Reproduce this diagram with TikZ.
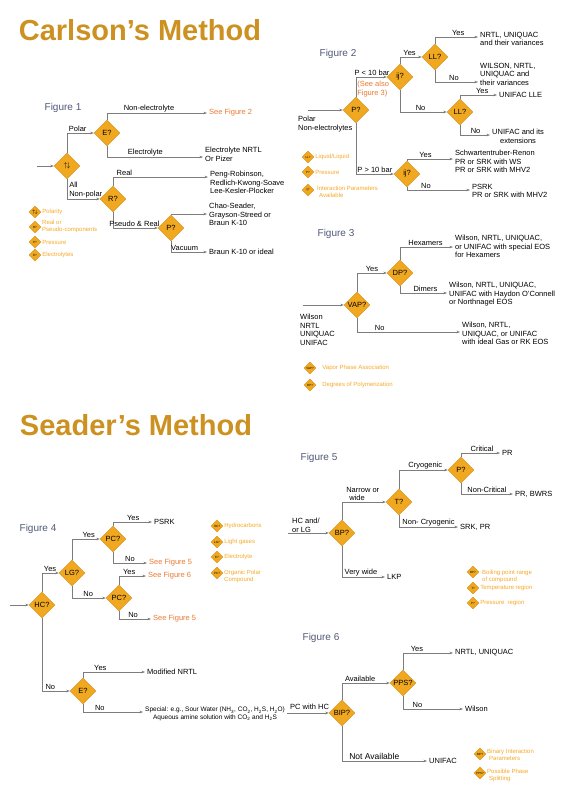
\documentclass[tikz,border=0pt]{standalone}
\usepackage{fontspec}
\setmainfont{Liberation Sans}
\usetikzlibrary{shapes.geometric,arrows.meta}
\definecolor{titlegold}{RGB}{204,145,32}
\definecolor{figslate}{RGB}{80,90,120}
\definecolor{dmdfill}{RGB}{240,168,32}
\definecolor{dmdedge}{RGB}{214,140,20}
\definecolor{seeorange}{RGB}{232,120,48}
\definecolor{keyorange}{RGB}{245,168,40}
\definecolor{linegray}{RGB}{125,125,125}

\begin{document}
\begin{tikzpicture}[x=1pt, y=-1pt, >={Stealth[length=3.5pt,width=2.6pt]},
    font=\fontsize{7.5}{8.5}\selectfont,
    dmd/.style={diamond, aspect=1, draw=dmdedge, fill=dmdfill, inner sep=0pt, minimum width=26pt, minimum height=26pt},
    keydmd/.style={diamond, aspect=1, draw=dmdedge, fill=dmdfill, inner sep=0pt, minimum width=12pt, minimum height=12pt, font=\fontsize{3}{3}\selectfont},
    conn/.style={->, draw=linegray, line width=0.6pt},
    res/.style={anchor=west, align=left, inner sep=1pt, inner xsep=2pt},
    lbl/.style={inner sep=1pt},
    see/.style={res, text=seeorange},
    keytxt/.style={anchor=west, align=left, text=keyorange, inner sep=1pt, font=\fontsize{6}{7.5}\selectfont},
    figlbl/.style={text=figslate, font=\fontsize{10}{12}\selectfont},
    heading/.style={text=titlegold, font=\fontsize{29}{34}\selectfont\bfseries}]
  \useasboundingbox (0,0) rectangle (566,801);

  % headings
  \node[heading] (carlson) at (140,30) {Carlson's Method};
  \node[heading] (seader) at (136,425) {Seader's Method};

  % Figure 1: polarity, real/pseudo components, pressure
  \begin{scope}
    \node[figlbl] (fig1) at (63,108) {Figure 1};
    \coordinate (in1) at (37,166);
    \node[dmd] (pol) at (67,166) {$\uparrow\!\downarrow$};
    \node[dmd] (E1) at (107,133) {E?};
    \node[dmd] (R1) at (113,199) {R?};
    \node[dmd] (P1) at (171,228) {P?};
    \node[see] (see2) at (207,113) {See Figure 2};
    \node[res, anchor=north west] (elnrtl) at (203,146) {Electrolyte NRTL\\Or Pizer};
    \node[res, anchor=north west] (pengrob) at (208,170) {Peng-Robinson,\\Redlich-Kwong-Soave\\Lee-Kesler-Plocker};
    \node[res, anchor=north west] (chao) at (207,202) {Chao-Seader,\\Grayson-Streed or\\Braun K-10};
    \node[res] (braun) at (207,252) {Braun K-10 or ideal};
    \draw[conn] (in1) -- (pol.west);
    \draw[conn] (pol.north) |- node[lbl, pos=0.70, above] {Polar} (E1.west);
    \draw[conn] (E1.north) |- node[lbl, pos=0.71, above] {Non-electrolyte} (see2.west);
    \draw[conn] (E1.south) |- node[lbl, pos=0.70, above] {Electrolyte} ([yshift=-11pt]elnrtl.north west);
    \draw[conn] (pol.south) |- node[lbl, pos=0.5, anchor=south west, align=left, xshift=1pt] {All\\Non-polar} (R1.west);
    \draw[conn] (R1.north) |- node[lbl, pos=0.56, above] {Real} ([yshift=-7pt]pengrob.north west);
    \draw[conn] (R1.south) |- node[lbl, pos=0.74, above] {Pseudo \& Real} (P1.west);
    \draw[conn] (P1.north) |- ([yshift=-12pt]chao.north west);
    \draw[conn] (P1.south) |- node[lbl, pos=0.69, above] {Vacuum} (braun.west);
    % key
    \node[keydmd] (k1a) at (35,212) {$\uparrow\!\downarrow$};
    \node[keydmd] (k1b) at (35,227) {R?};
    \node[keydmd] (k1c) at (35,242) {P?};
    \node[keydmd] (k1d) at (35,255) {E?};
    \node[keytxt] (k1at) at (k1a.east) {Polarity};
    \node[keytxt, anchor=north west] (k1bt) at (41,218.5) {Real or\\Pseudo-components};
    \node[keytxt] (k1ct) at (k1c.east) {Pressure};
    \node[keytxt] (k1dt) at (k1d.east) {Electrolytes};
  \end{scope}

  % Figure 2: polar non-electrolytes
  \begin{scope}
    \node[figlbl] (fig2) at (338,54) {Figure 2};
    \coordinate (in2) at (308,110);
    \node[dmd] (P2) at (356,110) {P?};
    \node[dmd] (ij2) at (400,77) {ij?};
    \node[dmd] (LL2a) at (435,57) {LL?};
    \node[dmd] (LL2b) at (460,112) {LL?};
    \node[dmd] (ij2b) at (407,174) {ij?};
    \node[res, anchor=north west, align=left] (inlist2) at (296,115) {Polar\\Non-electrolytes};
    \node[res, anchor=north west] (nrtl2) at (478,31) {NRTL, UNIQUAC\\ and their variances};
    \node[res, anchor=north west] (wilson2) at (478,62) {WILSON, NRTL,\\UNIQUAC and\\their variances};
    \node[res] (unifacl) at (497,95) {UNIFAC LLE};
    \node[res, anchor=north west, align=center] (unifacext) at (490,128) {UNIFAC and its\\extensions};
    \node[res, anchor=north west] (schw) at (453,149) {Schwartentruber-Renon\\PR or SRK with WS\\PR or SRK with MHV2};
    \node[res, anchor=north west] (psrk) at (470,183) {PSRK\\PR or SRK with MHV2};
    \draw[conn] (in2) -- (P2.west);
    \draw[conn] (P2.north) |- node[lbl, pos=0.76, above] {P < 10 bar}
      node[lbl, pos=0.5, anchor=north west, align=left, text=seeorange, yshift=-3pt] {(See also\\Figure 3)} (ij2.west);
    \draw[conn] (ij2.north) |- node[lbl, pos=0.72, above] {Yes} (LL2a.west);
    \draw[conn] (LL2a.north) |- node[lbl, pos=0.77, above] {Yes} ([yshift=-6pt]nrtl2.north west);
    \draw[conn] (LL2a.south) |- node[lbl, pos=0.72, above] {No} ([yshift=-20pt]wilson2.north west);
    \draw[conn] (ij2.south) |- node[lbl, pos=0.72, above] {No} (LL2b.west);
    \draw[conn] (LL2b.north) |- node[lbl, pos=0.8, above] {Yes} (unifacl.west);
    \draw[conn] (LL2b.south) |- node[lbl, pos=0.76, above] {No} ([yshift=-7pt]unifacext.north west);
    \draw[conn] (P2.south) |- node[lbl, pos=0.75, above] {P > 10 bar} (ij2b.west);
    \draw[conn] (ij2b.north) |- node[lbl, pos=0.7, above] {Yes} ([yshift=-10pt]schw.north west);
    \draw[conn] (ij2b.south) |- node[lbl, pos=0.65, above] {No} ([yshift=-7pt]psrk.north west);
    % key
    \node[keydmd] (k2a) at (308,157) {LL?};
    \node[keydmd] (k2b) at (308,172) {P?};
    \node[keydmd] (k2c) at (308,190) {ij?};
    \node[keytxt] (k2at) at (k2a.east) {Liquid/Liquid};
    \node[keytxt] (k2bt) at (k2b.east) {Pressure};
    \node[keytxt, anchor=north west] (k2ct) at (316,184.5) {Interaction Parameters\\\hspace*{2pt}Available};
  \end{scope}

  % Figure 3: vapour phase association
  \begin{scope}
    \node[figlbl] (fig3) at (336,234) {Figure 3};
    \coordinate (in3) at (303,305);
    \node[dmd] (VAP3) at (357,305) {VAP?};
    \node[dmd] (DP3) at (400,273) {DP?};
    \node[res, anchor=north west] (inlist3) at (298,313) {Wilson\\NRTL\\UNIQUAC\\UNIFAC};
    \node[res, anchor=north west] (hexa) at (453,234) {Wilson, NRTL, UNIQUAC,\\ or UNIFAC with special EOS\\ for Hexamers};
    \node[res, anchor=north west] (dimer) at (447,281) {Wilson, NRTL, UNIQUAC,\\ UNIFAC with Haydon O'Connell\\ or Northnagel EOS};
    \node[res, anchor=north west] (ideal) at (460,321) {Wilson, NRTL,\\UNIQUAC, or UNIFAC\\with ideal Gas or RK EOS};
    \draw[conn] (in3) -- (VAP3.west);
    \draw[conn] (VAP3.north) |- node[lbl, pos=0.75, above] {Yes} (DP3.west);
    \draw[conn] (DP3.north) |- node[lbl, pos=0.74, above] {Hexamers} ([yshift=-13pt]hexa.north west);
    \draw[conn] (DP3.south) |- node[lbl, pos=0.77, above] {Dimers} ([yshift=-12pt]dimer.north west);
    \draw[conn] (VAP3.south) |- node[lbl, pos=0.61, above] {No} ([yshift=-11pt]ideal.north west);
    % key
    \node[keydmd] (k3a) at (310,368) {VAP?};
    \node[keydmd] (k3b) at (310,385) {DP?};
    \node[keytxt, xshift=5pt] (k3at) at (k3a.east) {Vapor Phase Association};
    \node[keytxt, xshift=5pt] (k3bt) at (k3b.east) {Degrees of Polymerization};
  \end{scope}

  % Figure 4: hydrocarbons, light gases, polar compounds
  \begin{scope}
    \node[figlbl] (fig4) at (38,529) {Figure 4};
    \coordinate (in4) at (10,605);
    \node[dmd] (HC4) at (42,605) {HC?};
    \node[dmd] (LG4) at (72,573) {LG?};
    \node[dmd] (PCa4) at (113,539) {PC?};
    \node[dmd] (PCb4) at (119,598) {PC?};
    \node[dmd] (E4) at (83,691) {E?};
    \node[res] (psrk4) at (152,522) {PSRK};
    \node[see] (see5a) at (147,563) {See Figure 5};
    \node[see] (see6) at (146,576) {See Figure 6};
    \node[see] (see5b) at (151,619) {See Figure 5};
    \node[res] (modnrtl) at (145,672) {Modified NRTL};
    \node[res, anchor=north west, align=center, font=\fontsize{6.5}{7.5}\selectfont] (special) at (143,706) {Special: e.g., Sour Water (NH\textsubscript{3}, CO\textsubscript{2}, H\textsubscript{2}S, H\textsubscript{2}O)\\Aqueous amine solution with CO\textsubscript{2} and H\textsubscript{2}S};
    \draw[conn] (in4) -- (HC4.west);
    \draw[conn] (HC4.north) |- node[lbl, pos=0.74, above] {Yes} (LG4.west);
    \draw[conn] (LG4.north) |- node[lbl, pos=0.8, above] {Yes} (PCa4.west);
    \draw[conn] (PCa4.north) |- node[lbl, pos=0.76, above] {Yes} (psrk4.west);
    \draw[conn] (PCa4.south) |- node[lbl, pos=0.75, above] {No} (see5a.west);
    \draw[conn] (LG4.south) |- node[lbl, pos=0.74, above] {No} (PCb4.west);
    \draw[conn] (PCb4.north) |- node[lbl, pos=0.69, above] {Yes} (see6.west);
    \draw[conn] (PCb4.south) |- node[lbl, pos=0.72, above] {No} (see5b.west);
    \draw[conn] (HC4.south) |- node[lbl, pos=0.65, above] {No} (E4.west);
    \draw[conn] (E4.north) |- node[lbl, pos=0.64, above] {Yes} (modnrtl.west);
    \draw[conn] (E4.south) |- node[lbl, pos=0.64, above] {No} ([yshift=-6pt]special.north west);
    % key
    \node[keydmd] (k4a) at (217,526) {HC?};
    \node[keydmd] (k4b) at (217,542) {LG?};
    \node[keydmd] (k4c) at (217,557) {E?};
    \node[keydmd] (k4d) at (217,573) {PC?};
    \node[keytxt] (k4at) at (k4a.east) {Hydrocarbons};
    \node[keytxt] (k4bt) at (k4b.east) {Light gases};
    \node[keytxt] (k4ct) at (k4c.east) {Electrolyte};
    \node[keytxt, anchor=north west] (k4dt) at (223,568.5) {Organic Polar\\Compound};
  \end{scope}

  % Figure 5: hydrocarbons and/or light gases
  \begin{scope}
    \node[figlbl] (fig5) at (319,458) {Figure 5};
    \coordinate (in5) at (288,533);
    \node[dmd] (BP5) at (342,533) {BP?};
    \node[dmd] (T5) at (399,502) {T?};
    \node[dmd] (P5) at (461,470) {P?};
    \node[res, anchor=north west] (inlist5) at (290,517) {HC and/\\or LG};
    \node[res] (pr5) at (500,453) {PR};
    \node[res] (bwrs5) at (513,494) {PR, BWRS};
    \node[res] (srk5) at (458,527) {SRK, PR};
    \node[res] (lkp5) at (385,577) {LKP};
    \draw[conn] (in5) -- (BP5.west);
    \draw[conn] (BP5.north) |- node[lbl, pos=0.5, anchor=south west, align=left, xshift=3pt] {Narrow or\\\hspace*{3pt}wide} (T5.west);
    \draw[conn] (T5.north) |- node[lbl, pos=0.77, above] {Cryogenic} (P5.west);
    \draw[conn] (P5.north) |- node[lbl, pos=0.77, above] {Critical} (pr5.west);
    \draw[conn] (P5.south) |- node[lbl, pos=0.75, above] {Non-Critical} (bwrs5.west);
    \draw[conn] (T5.south) |- node[lbl, pos=0.75, above] {Non- Cryogenic} (srk5.west);
    \draw[conn] (BP5.south) |- node[lbl, pos=0.72, above] {Very wide} (lkp5.west);
    % key
    \node[keydmd] (k5a) at (473,572) {BP?};
    \node[keydmd] (k5b) at (473,588) {T?};
    \node[keydmd] (k5c) at (473,603) {P?};
    \node[keytxt, anchor=north west] (k5at) at (481,568.5) {Boiling point range\\of compound};
    \node[keytxt] (k5bt) at (k5b.east) {Temperature region};
    \node[keytxt] (k5ct) at (k5c.east) {Pressure\ \ region};
  \end{scope}

  % Figure 6: polar compound with hydrocarbons
  \begin{scope}
    \node[figlbl] (fig6) at (321,638) {Figure 6};
    \coordinate (in6) at (287,713);
    \node[dmd] (BIP6) at (342,713) {BIP?};
    \node[dmd] (PPS6) at (403,683) {PPS?};
    \node[res, anchor=south west] (inlist6) at (288,711) {PC with HC};
    \node[res] (nrtl6) at (453,653) {NRTL, UNIQUAC};
    \node[res] (wilson6) at (463,709) {Wilson};
    \node[res] (unifac6) at (427,761) {UNIFAC};
    \draw[conn] (in6) -- (BIP6.west);
    \draw[conn] (BIP6.north) |- node[lbl, pos=0.69, above] {Available} (PPS6.west);
    \draw[conn] (PPS6.north) |- node[lbl, pos=0.64, above] {Yes} (nrtl6.west);
    \draw[conn] (PPS6.south) |- node[lbl, pos=0.62, above] {No} (wilson6.west);
    \draw[conn] (BIP6.south) |- node[lbl, pos=0.69, above, font=\fontsize{8.5}{10}\selectfont] {Not Available} (unifac6.west);
    % key
    \node[keydmd] (k6a) at (480,754) {BIP?};
    \node[keydmd] (k6b) at (480,773) {PPS?};
    \node[keytxt, anchor=north west] (k6at) at (486,747.5) {Binary Interaction\\\hspace*{2pt}Parameters};
    \node[keytxt, anchor=north west] (k6bt) at (486,767.5) {Possible Phase\\\hspace*{2pt}Splitting};
  \end{scope}
\end{tikzpicture}
\end{document}
